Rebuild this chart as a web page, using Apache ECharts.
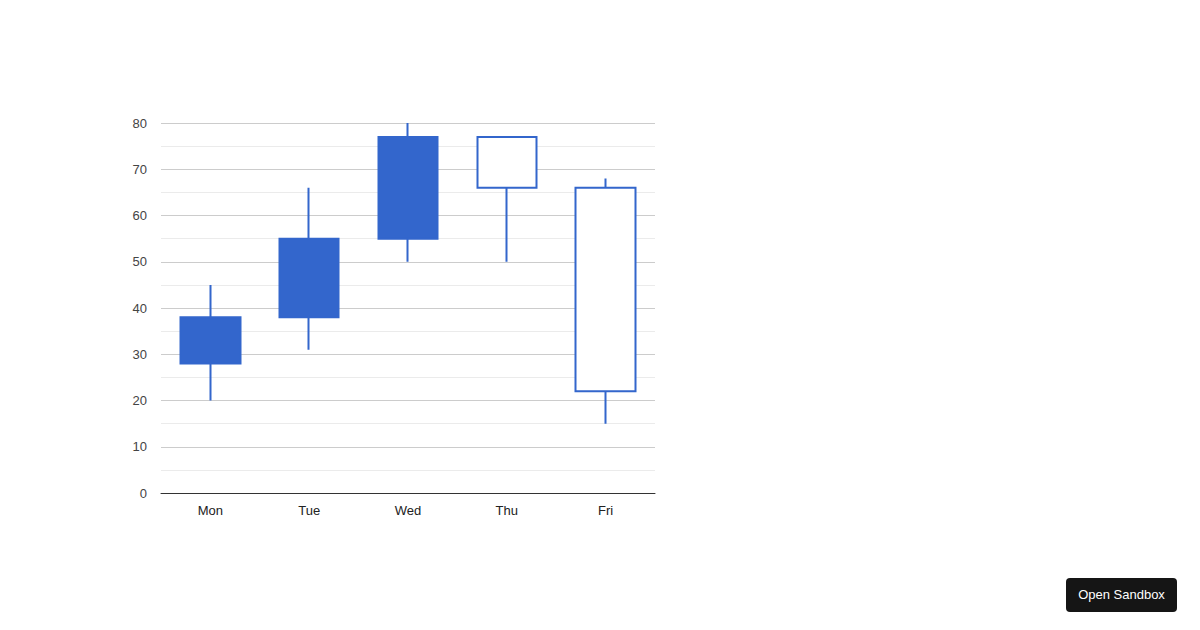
<!DOCTYPE html>
<html>
<head>
<meta charset="utf-8">
<script src="https://cdn.jsdelivr.net/npm/echarts@6/dist/echarts.min.js"></script>
<style>
html,body{margin:0;padding:0;background:#fff;}
#chart{width:1200px;height:630px;}
#btn{position:absolute;left:1066px;top:578px;width:111px;height:34px;background:#151515;color:#fff;border-radius:4px;font-family:"Liberation Sans",Arial,sans-serif;font-size:13px;line-height:34px;text-align:center;}
</style>
</head>
<body>
<div id="chart"></div>
<div id="btn">Open Sandbox</div>
<script>
const categories = ['Mon', 'Tue', 'Wed', 'Thu', 'Fri'];
// [open, close, low, high]
const ohlc = [
  [28, 38, 20, 45],
  [38, 55, 31, 66],
  [55, 77, 50, 80],
  [77, 66, 50, 77],
  [66, 22, 15, 68]
];
const yTicks = [0, 10, 20, 30, 40, 50, 60, 70, 80];

const chart = echarts.init(document.getElementById('chart'), null, {renderer: 'svg'});
chart.setOption({
  animation: false,
  grid: {left: 161, right: 545, top: 123, bottom: 137},
  xAxis: {
    type: 'category',
    data: categories,
    axisLine: {lineStyle: {color: '#333', width: 1}},
    axisTick: {show: false},
    axisLabel: {color: '#222', fontFamily: 'Liberation Sans, Arial', fontSize: 13, margin: 11},
    splitLine: {show: false}
  },
  yAxis: {
    type: 'value',
    min: yTicks[0],
    max: yTicks[yTicks.length - 1],
    interval: 10,
    axisLine: {show: false},
    axisTick: {show: false},
    axisLabel: {color: '#444', fontFamily: 'Liberation Sans, Arial', fontSize: 13, margin: 14},
    splitLine: {lineStyle: {color: '#cccccc', width: 1}},
    minorTick: {show: false, splitNumber: 2},
    minorSplitLine: {show: true, lineStyle: {color: '#ebebeb', width: 1}}
  },
  series: [{
    type: 'candlestick',
    data: ohlc,
    barWidth: 60,
    itemStyle: {
      color: '#3366cc',
      color0: '#ffffff',
      borderColor: '#3366cc',
      borderColor0: '#3366cc',
      borderWidth: 2
    }
  }]
});
</script>
</body>
</html>
